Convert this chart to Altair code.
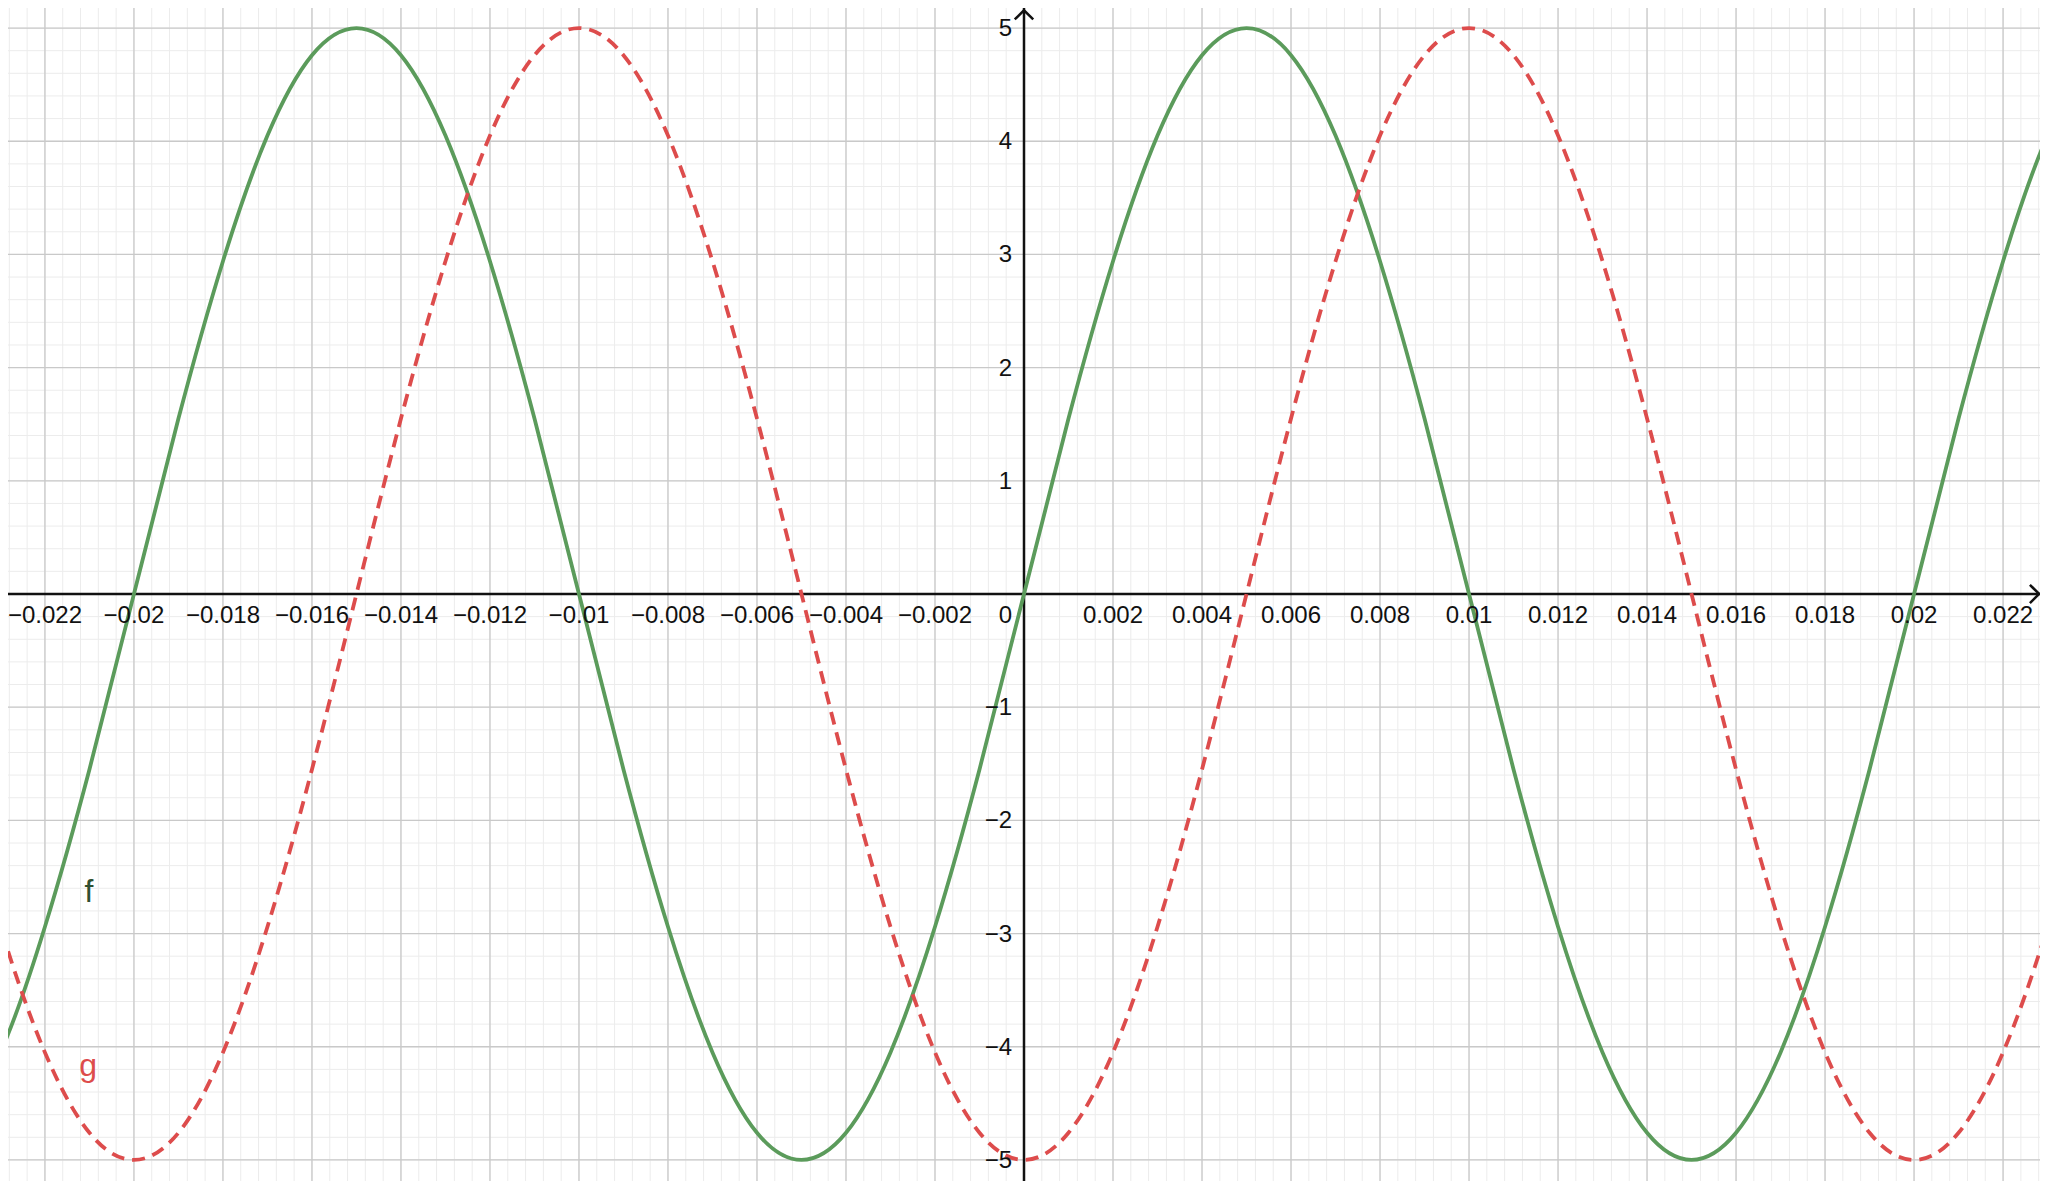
import altair as alt
import pandas as pd

# ---- data ----
x_samples = [k / 1000 for k in range(-24, 25)]  # sample positions, step 0.001
f_values = [-4.76, -4.05, -2.94, -1.55, 0, 1.55, 2.94, 4.05, 4.76, 5, 4.76, 4.05, 2.94, 1.55, 0,
            -1.55, -2.94, -4.05, -4.76, -5, -4.76, -4.05, -2.94, -1.55, 0, 1.55, 2.94, 4.05, 4.76,
            5, 4.76, 4.05, 2.94, 1.55, 0, -1.55, -2.94, -4.05, -4.76, -5, -4.76, -4.05, -2.94,
            -1.55, 0, 1.55, 2.94, 4.05, 4.76]
g_values = [-1.55, -2.94, -4.05, -4.76, -5, -4.76, -4.05, -2.94, -1.55, 0, 1.55, 2.94, 4.05, 4.76,
            5, 4.76, 4.05, 2.94, 1.55, 0, -1.55, -2.94, -4.05, -4.76, -5, -4.76, -4.05, -2.94,
            -1.55, 0, 1.55, 2.94, 4.05, 4.76, 5, 4.76, 4.05, 2.94, 1.55, 0, -1.55, -2.94, -4.05,
            -4.76, -5, -4.76, -4.05, -2.94, -1.55]

x_tick_values = [-0.022, -0.02, -0.018, -0.016, -0.014, -0.012, -0.01, -0.008, -0.006, -0.004, -0.002,
                 0.002, 0.004, 0.006, 0.008, 0.01, 0.012, 0.014, 0.016, 0.018, 0.02, 0.022]
x_tick_labels = ["−0.022", "−0.02", "−0.018", "−0.016", "−0.014", "−0.012", "−0.01", "−0.008",
                 "−0.006", "−0.004", "−0.002", "0.002", "0.004", "0.006", "0.008", "0.01",
                 "0.012", "0.014", "0.016", "0.018", "0.02", "0.022"]
y_tick_values = [5, 4, 3, 2, 1, -1, -2, -3, -4, -5]
y_tick_labels = ["5", "4", "3", "2", "1", "−1", "−2", "−3", "−4", "−5"]

fn_names = ["f", "g"]
fn_label_x = [-0.02101, -0.02103]
fn_label_y = [-2.72, -4.26]
fn_colors = ["#2f4f2f", "#dd4c4c"]

X_DOMAIN = [-0.02283, 0.02283]
Y_DOMAIN = [-5.186, 5.177]
W, H = 2032, 1173

GREEN = "#5b9b5b"
RED = "#dd4c4c"
FONT = "Liberation Sans"

# grid positions
major_x = [round(-0.024 + 0.002 * i, 4) for i in range(25)]
minor_x = [round(-0.0232 + 0.0004 * i, 5) for i in range(117)]
major_y = list(range(-6, 7))
minor_y = [round(-5.4 + 0.2 * i, 2) for i in range(55)]

xs = alt.Scale(domain=X_DOMAIN, nice=False, zero=False)
ys = alt.Scale(domain=Y_DOMAIN, nice=False, zero=False)


def X(field):
    return alt.X(field, type="quantitative", scale=xs, axis=None)


def Y(field):
    return alt.Y(field, type="quantitative", scale=ys, axis=None)


minor_vx = alt.Chart(pd.DataFrame({"x": minor_x})).mark_rule(color="#ececec", strokeWidth=1).encode(x=X("x"))
minor_hy = alt.Chart(pd.DataFrame({"y": minor_y})).mark_rule(color="#ececec", strokeWidth=1).encode(y=Y("y"))
major_vx = alt.Chart(pd.DataFrame({"x": major_x})).mark_rule(color="#c9c9c9", strokeWidth=1.3).encode(x=X("x"))
major_hy = alt.Chart(pd.DataFrame({"y": major_y})).mark_rule(color="#c9c9c9", strokeWidth=1.3).encode(y=Y("y"))

axis_df = pd.DataFrame({"zero": [0]})
x_axis = alt.Chart(axis_df).mark_rule(color="#111111", strokeWidth=2.5).encode(y=Y("zero"))
y_axis = alt.Chart(axis_df).mark_rule(color="#111111", strokeWidth=2.5).encode(x=X("zero"))

arrow_x = alt.Chart(pd.DataFrame({"x": [X_DOMAIN[1] - 0.00002], "y": [0]})).mark_point(
    shape="M-1,-1L0,0L-1,1", filled=False, size=340, strokeWidth=2.5, color="#111111", opacity=1
).encode(x=X("x"), y=Y("y"))
arrow_y = alt.Chart(pd.DataFrame({"x": [0], "y": [Y_DOMAIN[1] - 0.02]})).mark_point(
    shape="M-1,1L0,0L1,1", filled=False, size=340, strokeWidth=2.5, color="#111111", opacity=1
).encode(x=X("x"), y=Y("y"))

curve_df = pd.DataFrame({"x": x_samples, "f": f_values, "g": g_values})
f_line = alt.Chart(curve_df).mark_line(color=GREEN, strokeWidth=3.8, interpolate="natural", clip=True).encode(
    x=X("x"), y=Y("f"))
g_line = alt.Chart(curve_df).mark_line(color=RED, strokeWidth=3.8, interpolate="natural", clip=True,
                                       strokeDash=[13, 8]).encode(x=X("x"), y=Y("g"))

xt_df = pd.DataFrame({"x": x_tick_values, "label": x_tick_labels, "y": [0] * len(x_tick_values)})
x_labels = alt.Chart(xt_df).mark_text(font=FONT, fontSize=24, color="#111111", align="center",
                                      baseline="alphabetic", dy=29).encode(x=X("x"), y=Y("y"), text="label:N")
origin_label = alt.Chart(pd.DataFrame({"x": [0], "y": [0], "label": ["0"]})).mark_text(
    font=FONT, fontSize=24, color="#111111", align="right", baseline="alphabetic", dx=-12, dy=29
).encode(x=X("x"), y=Y("y"), text="label:N")
yt_df = pd.DataFrame({"y": y_tick_values, "label": y_tick_labels, "x": [0] * len(y_tick_values)})
y_labels = alt.Chart(yt_df).mark_text(font=FONT, fontSize=24, color="#111111", align="right",
                                      baseline="middle", dx=-12, dy=1).encode(x=X("x"), y=Y("y"), text="label:N")

fn_df = pd.DataFrame({"x": fn_label_x, "y": fn_label_y, "name": fn_names, "color": fn_colors})
fn_labels = alt.Chart(fn_df).mark_text(font=FONT, fontSize=32, align="center", baseline="alphabetic").encode(
    x=X("x"), y=Y("y"), text="name:N", color=alt.Color("color:N", scale=None))

chart = alt.layer(
    minor_vx, minor_hy, major_vx, major_hy, x_axis, y_axis, arrow_x, arrow_y,
    f_line, g_line, x_labels, origin_label, y_labels, fn_labels
).properties(
    width=W, height=H, padding=0, background="white",
    autosize=alt.AutoSizeParams(type="none")
).configure_view(stroke=None)

chart.save("out.html", embed_options={"renderer": "svg", "actions": False})
